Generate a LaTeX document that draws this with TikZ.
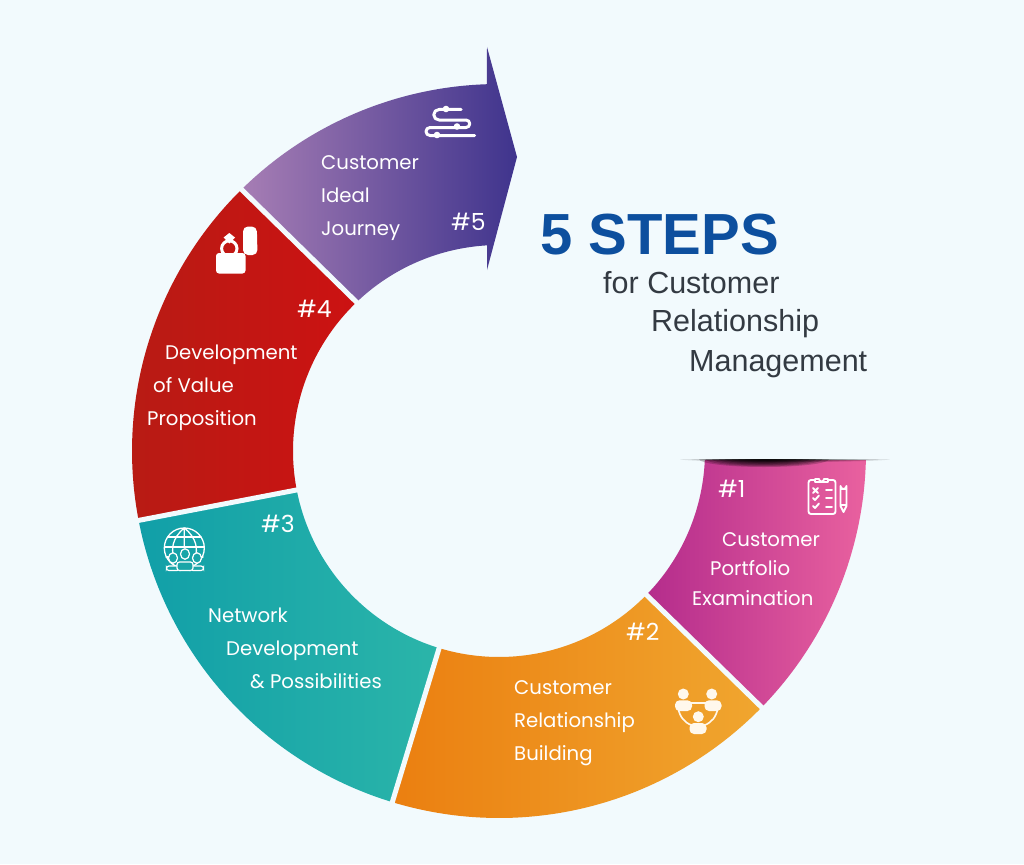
\documentclass[tikz,border=0pt]{standalone}
\usepackage{fontspec}
\setmainfont{Poppins}
\newfontfamily\headfont{Liberation Sans}
\definecolor{bgc}{HTML}{F2FAFD}
\definecolor{oneL}{HTML}{B42C8C}\definecolor{oneR}{HTML}{E9619F}
\definecolor{twoL}{HTML}{EB7F10}\definecolor{twoR}{HTML}{F0A62F}
\definecolor{thrL}{HTML}{119FA8}\definecolor{thrR}{HTML}{2BB5A9}
\definecolor{fouL}{HTML}{B81B14}\definecolor{fouR}{HTML}{CC1212}
\definecolor{fivL}{HTML}{A67DB4}\definecolor{fivR}{HTML}{3F348D}
\definecolor{headblue}{HTML}{0D4F9E}\definecolor{headgrey}{HTML}{333A42}
\definecolor{cream}{HTML}{FFF8EC}
\newcommand{\ringsector}[4]{\shade[left color=#1,right color=#2] plot[domain=#3:#4,samples=70]({499+367*cos(\x)},{451-367*sin(\x)}) -- plot[domain=#4:#3,samples=50]({499+206*cos(\x)},{451-206*sin(\x)}) -- cycle;}
\tikzset{
  lab/.style={text=white,anchor=base west,inner sep=0pt,font=\fontsize{19.7}{22}\selectfont},
  num/.style={text=white,anchor=base west,inner sep=0pt,font=\fontsize{23.5}{26}\selectfont},
  sub/.style={text=headgrey,anchor=base west,inner sep=0pt,font=\headfont\fontsize{30.5}{32}\selectfont},
  gap/.style={draw=bgc,line width=5pt},
  ico/.style={draw=white,line width=3pt,line cap=round,line join=round},
  icomid/.style={draw=white,line width=1.9pt,line cap=round,line join=round},
  icothin/.style={draw=white,line width=1.3pt,line cap=round,line join=round},
  link/.style={draw=cream,line width=1.6pt},
}
\begin{document}
\begin{tikzpicture}[x=1pt,y=-1pt]
\useasboundingbox (0,0) rectangle (1024,864);
\fill[bgc] (0,0) rectangle (1024,864);
% ring
\shade[left color=oneL,right color=oneR] (866,460) -- plot[domain=-1.4:-44.3,samples=70]({499+367*cos(\x)},{451-367*sin(\x)}) -- plot[domain=-44.3:-2.5,samples=50]({499+206*cos(\x)},{451-206*sin(\x)}) -- cycle;
\ringsector{twoL}{twoR}{-44.3}{-106.9}
\ringsector{thrL}{thrR}{-106.9}{-169.1}
\ringsector{fouL}{fouR}{-169.1}{-225.8}
\shade[left color=fivL,right color=fivR] plot[domain=134.2:91.9,samples=60]({499+367*cos(\x)},{451-367*sin(\x)}) -- (487,47) -- (517,157) -- (487,270) -- plot[domain=93.3:134.2,samples=50]({499+206*cos(\x)},{451-206*sin(\x)}) -- cycle;
% gaps
\coordinate (g1a) at ({499+190*cos(-44.3)},{451-190*sin(-44.3)});
\coordinate (g1b) at ({499+385*cos(-44.3)},{451-385*sin(-44.3)});
\coordinate (g2a) at ({499+190*cos(-106.9)},{451-190*sin(-106.9)});
\coordinate (g2b) at ({499+385*cos(-106.9)},{451-385*sin(-106.9)});
\coordinate (g3a) at ({499+190*cos(190.9)},{451-190*sin(190.9)});
\coordinate (g3b) at ({499+385*cos(190.9)},{451-385*sin(190.9)});
\coordinate (g4a) at ({499+190*cos(133.6)},{451-190*sin(133.6)});
\coordinate (g4b) at ({499+385*cos(134.6)},{451-385*sin(134.6)});
\draw[gap] (g1a) -- (g1b);
\draw[gap] (g2a) -- (g2b);
\draw[gap] (g3a) -- (g3b);
\draw[gap] (g4a) -- (g4b);
% shadow under the white panel
\begin{scope}
\clip (670,459) rectangle (900,480);
\foreach \k in {1,...,10}
  \fill[black,opacity=.09] (785,459) ellipse [x radius={\k*10.5},y radius={\k*0.32}];
\foreach \k in {1,...,10}
  \fill[black,opacity=.2] (764,459) ellipse [x radius={\k*6.5},y radius={\k*0.8}];
\end{scope}
% title
\node[text=headblue,anchor=base west,inner sep=0pt,font=\headfont\bfseries\fontsize{58}{60}\selectfont] (title) at (540,254) {5 STEPS};
\node[sub] (s1) at (603,293) {for Customer};
\node[sub] (s2) at (651,331) {Relationship};
\node[sub] (s3) at (689,371) {Management};
% labels
\node[num] (n5) at (451,230) {\#5};
\node[lab] (l51) at (321,169) {Customer};
\node[lab] (l52) at (321,202) {Ideal};
\node[lab] (l53) at (321,235) {Journey};
\node[num] (n4) at (297,317) {\#4};
\node[lab] (l41) at (165,359) {Development};
\node[lab] (l42) at (153,392) {of Value};
\node[lab] (l43) at (147,425) {Proposition};
\node[num] (n3) at (261,532) {\#3};
\node[lab] (l31) at (208,622) {Network};
\node[lab] (l32) at (226,655) {Development};
\node[lab] (l33) at (250,688) {\& Possibilities};
\node[num] (n2) at (626,640) {\#2};
\node[lab] (l21) at (514,694) {Customer};
\node[lab] (l22) at (514,727) {Relationship};
\node[lab] (l23) at (514,760) {Building};
\node[num] (n1) at (718,497) {\#1};
\node[lab] (l11) at (722,546) {Customer};
\node[lab] (l12) at (710,575) {Portfolio};
\node[lab] (l13) at (692,605) {Examination};
% icon 5
\draw[ico] (461,109.5) -- (439,109.5) arc[start angle=-90,end angle=-270,radius=5.25] -- (466,120) arc[start angle=-90,end angle=90,radius=3.75] -- (430,127.5) arc[start angle=-90,end angle=-270,radius=4] -- (474.5,135.5);
\fill[white] (446,109) circle (3.3) (457,126.5) circle (3.3) (437,135) circle (3.3);
% icon 1
\draw[icomid] (815,480) -- (811,480) arc[start angle=-90,end angle=-180,radius=2.5] -- (808.5,511.5) arc[start angle=180,end angle=90,radius=2.5] -- (833,514) arc[start angle=90,end angle=0,radius=2.5] -- (835.5,482.5) arc[start angle=0,end angle=-90,radius=2.5] -- (829,480);
\draw[icomid] (815,482) -- (815,479) -- (819,479) arc[start angle=180,end angle=0,radius=2.5] -- (828,479) -- (828,482) -- cycle;
\draw[icomid] (813,488) -- (818,493) (818,488) -- (813,493);
\draw[icomid] (813,498) -- (815,500) -- (819,495.5);
\draw[icomid] (813,506) -- (815,508) -- (819,503.5);
\draw[icomid] (826,490) -- (832,490) (826,498) -- (832,498) (826,507) -- (832,507);
\draw[icomid] (840.5,486) arc[start angle=180,end angle=0,radius=3] -- (846.5,506) -- (843.5,512) -- (840.5,506) -- cycle;
\draw[icothin] (840.5,489) -- (846.5,489) (840.5,505) -- (846.5,505);
% icon 2
\draw[link] (690,703) -- (707,703);
\draw[link] (678,708) .. controls (680,717) and (684,722) .. (691,725);
\draw[link] (718,708) .. controls (716,717) and (712,722) .. (705,725);
\fill[cream] (683.3,694) circle (5.5) (711.7,694) circle (5.5) (698.3,716.7) circle (5.5);
\fill[cream,rounded corners=4.5pt] (675,711) -- (675,700.3) -- (692,700.3) -- (692,711) -- cycle;
\fill[cream,rounded corners=4.5pt] (704.5,711) -- (704.5,700.3) -- (721.5,700.3) -- (721.5,711) -- cycle;
\fill[cream,rounded corners=4.5pt] (689.5,734) -- (689.5,723) -- (706.5,723) -- (706.5,734) -- cycle;
% icon 3
\draw[icothin] (184.3,548) circle (20);
\draw[icothin] (184.3,528) .. controls (172,538) and (171,550) .. (174,557) (184.3,528) .. controls (197,538) and (198,550) .. (195,557) (184.3,528) -- (184.3,548);
\draw[icothin] (168,537) -- (201,537) (164.5,547) -- (204,547) (166,557) -- (169,557) (200,557) -- (203,557);
\foreach \hx/\hy/\bw in {173/558/6.5,197/558/6.5,185/554/8}{
  \fill[thrL!70!thrR,draw=white,line width=1.2pt,rounded corners=2.5pt] ({\hx-\bw},570.5) -- ({\hx-\bw},{\hy+8}) -- ({\hx+\bw},{\hy+8}) -- ({\hx+\bw},570.5) -- cycle;
  \fill[thrL!70!thrR,draw=white,line width=1.2pt] (\hx,\hy) ellipse [x radius=4.5,y radius=5.2];
}
% icon 4
\fill[white,rounded corners=5pt] (243,226.5) -- (256.8,226.5) -- (257.5,255) -- (243,255) -- cycle;
\fill[white,rounded corners=3pt] (216,253) -- (245.5,253) -- (245.5,273.5) -- (216,273.5) -- cycle;
\draw[white,line width=3pt] (229.3,248.5) circle (7.7);
\fill[white] (229.3,233) -- (235,237.5) -- (229.3,243.5) -- (223.6,237.5) -- cycle;
\end{tikzpicture}
\end{document}
